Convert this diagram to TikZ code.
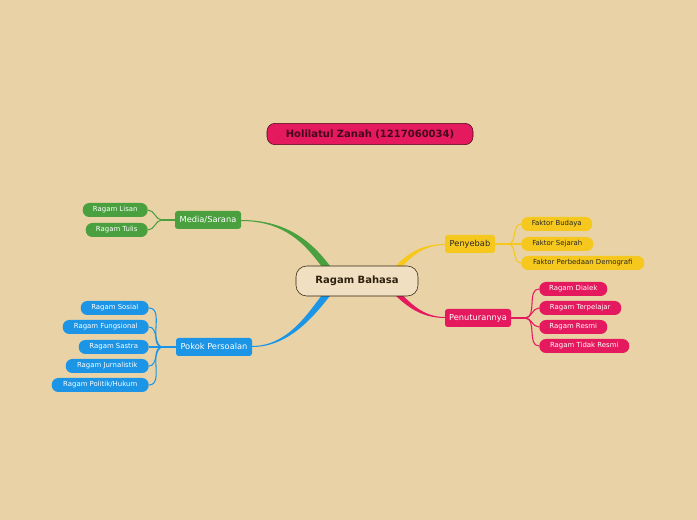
\documentclass[tikz,border=0pt]{standalone}
\usepackage{fontspec}
\setmainfont{DejaVu Sans}
\begin{document}
\begin{tikzpicture}[x=0.75pt,y=-0.75pt,
  base/.style={rounded corners=2pt,inner sep=0pt,minimum height=13.5pt,text height=4.6pt,text depth=1.2pt,font=\fontsize{6.2}{7}\selectfont},
  leaf/.style={base,rounded corners=5pt,minimum height=10.5pt,text height=3.9pt,text depth=1pt,font=\fontsize{5.2}{6}\selectfont},
  gr/.style={fill=mgreen,text=white},
  bl/.style={fill=mblue,text=white},
  ye/.style={fill=myellow,text=black!85},
  cr/.style={fill=mcrim,text=white},
  link/.style={line width=0.8pt}]
\definecolor{bg}{HTML}{E9D3A6}
\definecolor{mgreen}{HTML}{4AA03E}
\definecolor{mblue}{HTML}{1C95E6}
\definecolor{myellow}{HTML}{F6C81D}
\definecolor{mcrim}{HTML}{E5195D}
\fill[bg] (0,0) rectangle (697,520);
\useasboundingbox (0,0) rectangle (697,520);
% title & root
\node[draw=black!70!mcrim,fill=mcrim,rounded corners=6pt,minimum width=154.5pt,minimum height=16pt,inner sep=0pt,font=\bfseries\fontsize{7.5}{8}\selectfont,text=black!70!mcrim] (title) at (370,134) {Holilatul Zanah (1217060034)};
% main branches (tapered)
\fill[mgreen] (241,220) .. controls (290,220) and (315,245) .. (333,270) -- (325,271) .. controls (308,248) and (288,221) .. (241,221);
\fill[mblue] (252,347) .. controls (290,347) and (315,315) .. (333,292) -- (325,291) .. controls (308,313) and (288,346) .. (252,346);
\fill[myellow] (445,244) .. controls (420,244) and (405,255) .. (392,270) -- (398,271) .. controls (410,258) and (422,245) .. (445,245);
\fill[mcrim] (445,318) .. controls (420,318) and (405,305) .. (392,292) -- (398,291) .. controls (410,302) and (422,317) .. (445,317);
\node[draw=black!75!brown,fill=bg!70!white,rounded corners=8pt,minimum width=91.5pt,minimum height=22.5pt,inner sep=0pt,font=\bfseries\fontsize{7.5}{8}\selectfont,text=black!75!brown] (root) at (357,281) {Ragam Bahasa};
% branches
\node[base,gr,minimum width=49.5pt] (ms) at (208,220) {Media/Sarana};
\node[base,bl,minimum width=57pt] (pp) at (214,347) {Pokok Persoalan};
\node[base,ye,minimum width=37.5pt] (py) at (470,244) {Penyebab};
\node[base,cr,minimum width=49.5pt] (pn) at (478,318) {Penuturannya};
% green leaves
\node[leaf,gr,minimum width=48.75pt,anchor=east] (l1) at (148,210) {Ragam Lisan};
\node[leaf,gr,minimum width=46.5pt,anchor=east] (l2) at (148,230) {Ragam Tulis};
\coordinate (gj) at (162,220);
\draw[link,mgreen] (ms.west) -- (gj);
\foreach \n in {l1,l2} \draw[link,mgreen] (gj) to[out=180,in=0] (\n.east);
% blue leaves
\node[leaf,bl,minimum width=51pt,anchor=east] (b1) at (149,308) {Ragam Sosial};
\node[leaf,bl,minimum width=64.5pt,anchor=east] (b2) at (149,327) {Ragam Fungsional};
\node[leaf,bl,minimum width=52.5pt,anchor=east] (b3) at (149,347) {Ragam Sastra};
\node[leaf,bl,minimum width=62.25pt,anchor=east] (b4) at (149,366) {Ragam Jurnalistik};
\node[leaf,bl,minimum width=72.75pt,anchor=east] (b5) at (149,385) {Ragam Politik/Hukum};
\coordinate (bj) at (163,347);
\draw[link,mblue] (pp.west) -- (bj);
\foreach \n in {b1,b2,b3,b4,b5} \draw[link,mblue] (bj) to[out=180,in=0] (\n.east);
% yellow leaves
\node[leaf,ye,minimum width=53.25pt,anchor=west] (y1) at (521,224) {Faktor Budaya};
\node[leaf,ye,minimum width=54pt,anchor=west] (y2) at (521,244) {Faktor Sejarah};
\node[leaf,ye,minimum width=92.25pt,anchor=west] (y3) at (521,263) {Faktor Perbedaan Demografi};
\coordinate (yj) at (508,244);
\draw[link,myellow] (py.east) -- (yj);
\foreach \n in {y1,y2,y3} \draw[link,myellow] (yj) to[out=0,in=180] (\n.west);
% crimson leaves
\node[leaf,cr,minimum width=51pt,anchor=west] (c1) at (539,289) {Ragam Dialek};
\node[leaf,cr,minimum width=61.5pt,anchor=west] (c2) at (539,308) {Ragam Terpelajar};
\node[leaf,cr,minimum width=51pt,anchor=west] (c3) at (539,327) {Ragam Resmi};
\node[leaf,cr,minimum width=67.5pt,anchor=west] (c4) at (539,346) {Ragam Tidak Resmi};
\coordinate (cj) at (525,318);
\draw[link,mcrim] (pn.east) -- (cj);
\foreach \n in {c1,c2,c3,c4} \draw[link,mcrim] (cj) to[out=0,in=180] (\n.west);
\end{tikzpicture}
\end{document}
